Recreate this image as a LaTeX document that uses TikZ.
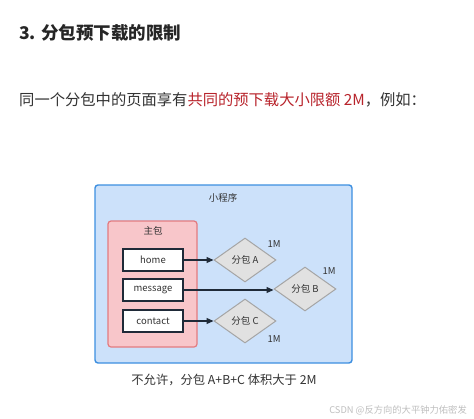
\documentclass[tikz,border=0pt]{standalone}
\usepackage{fontspec}
\setmainfont{Noto Sans CJK SC}
\newfontfamily\cjkb[BoldFont={Noto Sans CJK SC Bold}]{Noto Sans CJK SC}
\usetikzlibrary{shapes.geometric,arrows.meta}
\definecolor{bluefill}{HTML}{CCE1FA}
\definecolor{blueline}{HTML}{3D8FE0}
\definecolor{pinkfill}{HTML}{F8C6CA}
\definecolor{pinkline}{HTML}{E37B80}
\definecolor{diafill}{HTML}{E1E1E1}
\definecolor{dialine}{HTML}{A5A5A5}
\definecolor{redtext}{HTML}{B8232B}
\definecolor{darktext}{HTML}{333333}
\definecolor{arrowc}{HTML}{1F2A38}
\begin{document}
\begin{tikzpicture}[x=1pt,y=-1pt,
  pagebox/.style={draw=arrowc,line width=1.3pt,fill=white,minimum width=60pt,minimum height=22pt,inner sep=0pt,font=\fontsize{9.5}{11}\selectfont,text=darktext},
  subpkg/.style={diamond,draw=dialine,line width=1pt,fill=diafill,minimum width=62pt,minimum height=44pt,inner sep=0pt,aspect=1.4,font=\fontsize{9.5}{11}\selectfont,text=darktext},
  lbl/.style={font=\fontsize{9.5}{11}\selectfont,text=darktext,inner sep=0pt},
  conn/.style={draw=arrowc,line width=1.2pt,-{Triangle[length=7pt,width=6pt]}}
]
\useasboundingbox (0,0) rectangle (474,418);
\fill[white] (0,0) rectangle (474,418);
\node[anchor=west,inner sep=0pt,font=\fontsize{17.5}{20}\selectfont\bfseries,text=black!85] (title) at (19,33) {3. 分包预下载的限制};
\node[anchor=west,inner sep=0pt,font=\fontsize{15.3}{18}\selectfont,text=darktext] (intro) at (19,100) {同一个分包中的页面享有\textcolor{redtext}{共同的预下载大小限额 2M}，例如：};
% outer box
\draw[draw=blueline,fill=bluefill,line width=1.4pt,rounded corners=3pt] (95,185) rectangle (352,363);
\node[lbl] (app) at (223,198) {小程序};
% main package
\draw[draw=pinkline,fill=pinkfill,line width=1.2pt,rounded corners=3pt] (108,221) rectangle (197,347);
\node[lbl] (main) at (153,231) {主包};
\node[pagebox] (home) at (153,260) {home};
\node[pagebox] (msg) at (153,290) {message};
\node[pagebox] (contact) at (153,321) {contact};
\node[subpkg] (A) at (245,260) {分包 A};
\node[subpkg] (B) at (305,289) {分包 B};
\node[subpkg] (C) at (245,321) {分包 C};
\node[lbl] (mA) at (274,244) {1M};
\node[lbl] (mB) at (329,271) {1M};
\node[lbl] (mC) at (274,339) {1M};
\draw[conn] (home.east) -- (A.west);
\draw[conn] (msg.east) -- (msg.east -| B.west);
\draw[conn] (contact.east) -- (C.west);
\node[inner sep=0pt,font=\fontsize{12.3}{14}\selectfont,text=darktext] (note) at (224,380) {不允许，分包 A+B+C 体积大于 2M};
\node[anchor=east,inner sep=0pt,font=\fontsize{9.3}{11}\selectfont,text=black!25] (wm) at (467,410) {CSDN @反方向的大平钟力佑密发};
\end{tikzpicture}
\end{document}
